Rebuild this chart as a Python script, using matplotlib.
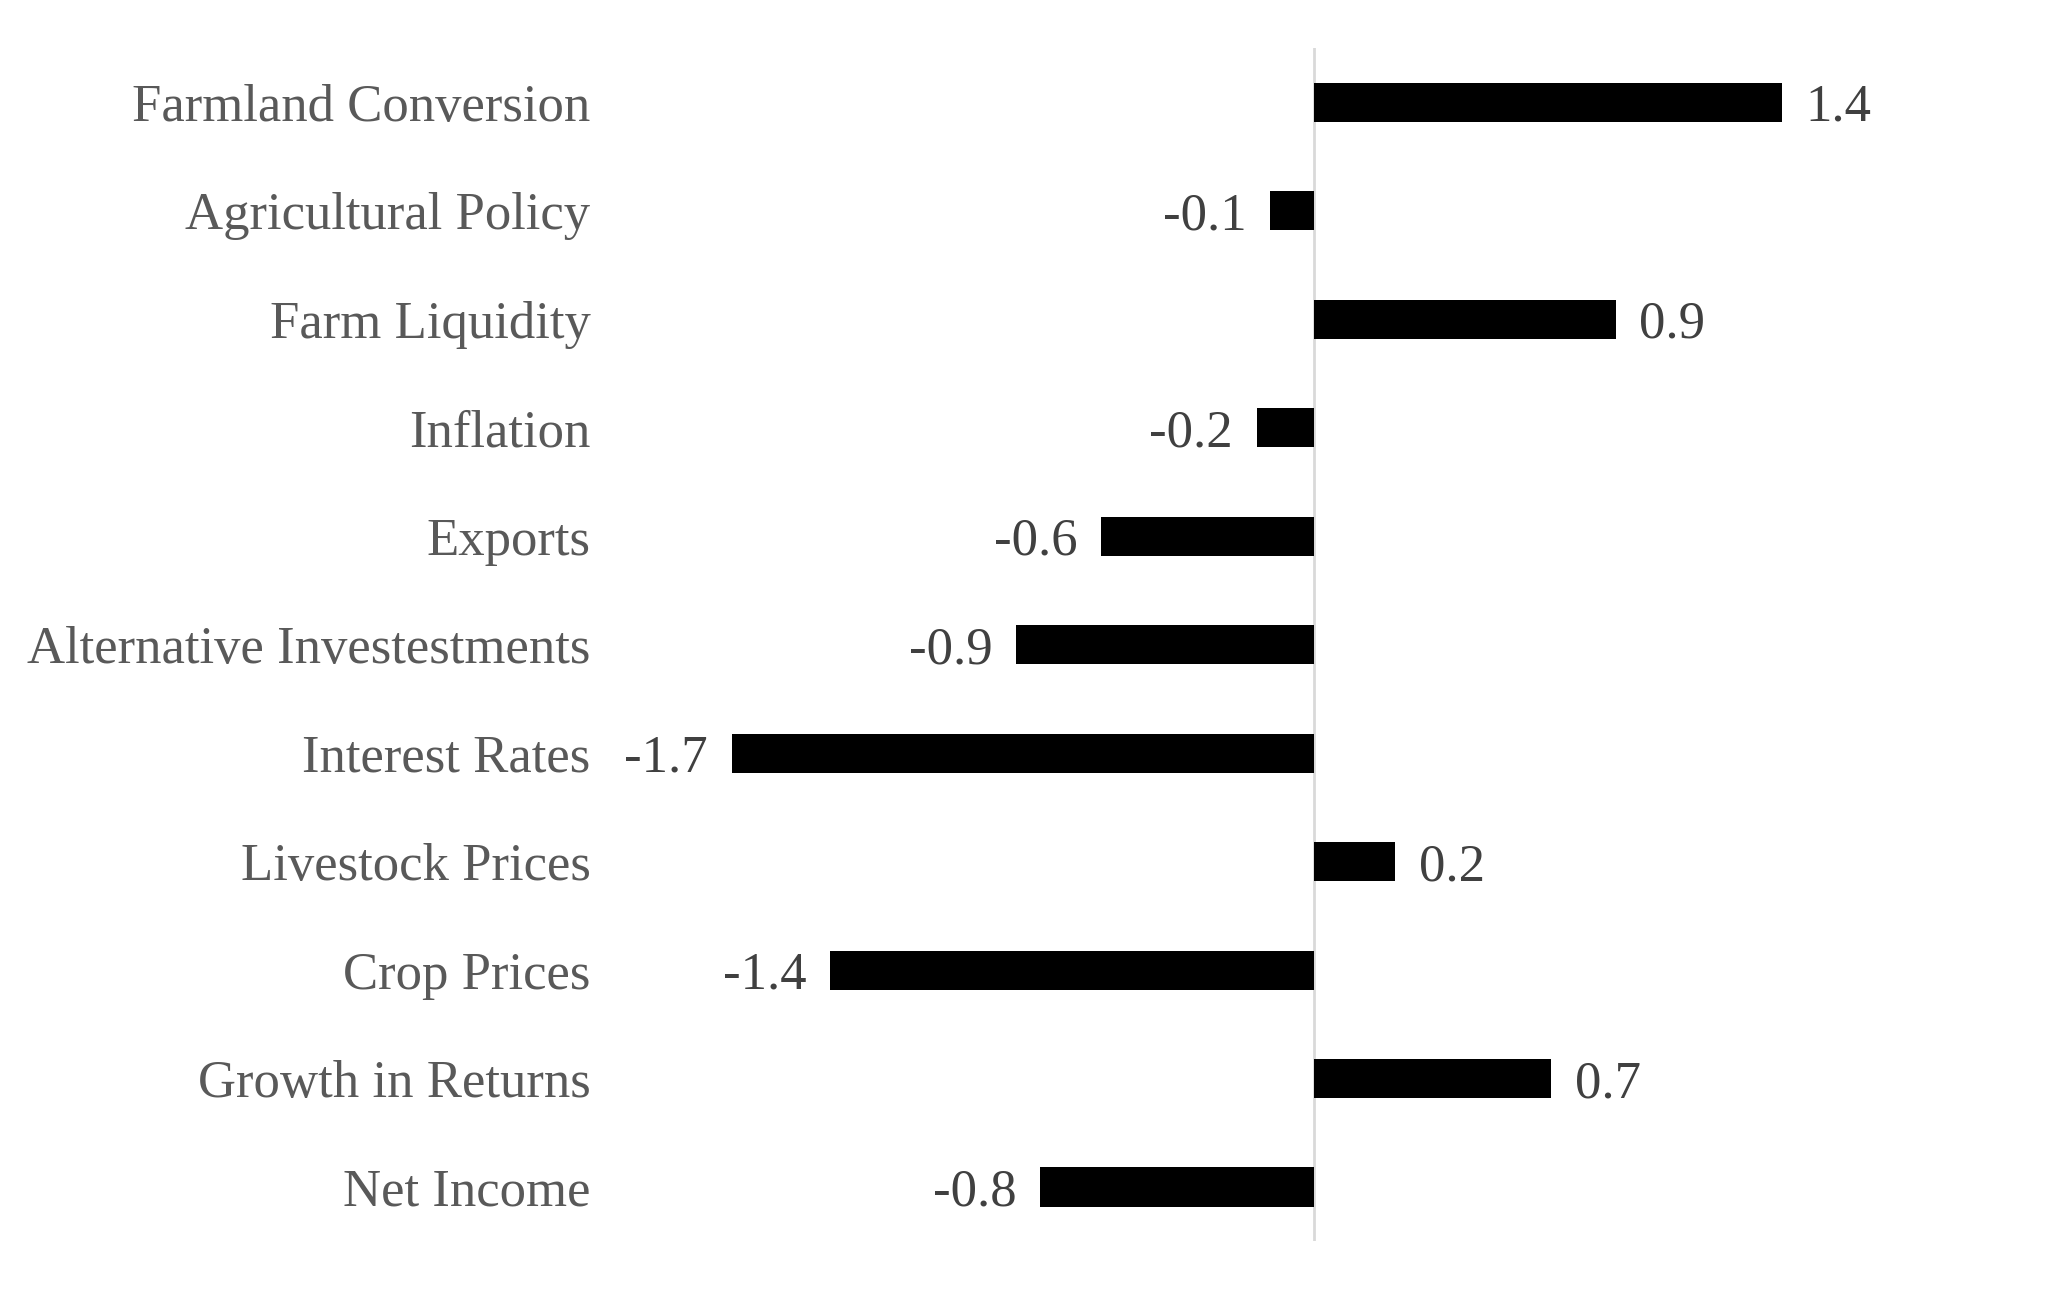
import matplotlib
matplotlib.use("Agg")
import matplotlib.pyplot as plt

categories = ["Farmland Conversion", "Agricultural Policy", "Farm Liquidity", "Inflation",
              "Exports", "Alternative Investestments", "Interest Rates", "Livestock Prices",
              "Crop Prices", "Growth in Returns", "Net Income"]
values = [1.38, -0.13, 0.89, -0.17, -0.63, -0.88, -1.72, 0.24, -1.43, 0.70, -0.81]
value_labels = ["1.4", "-0.1", "0.9", "-0.2", "-0.6", "-0.9", "-1.7", "0.2", "-1.4", "0.7", "-0.8"]

plt.rcParams['font.family'] = ['Liberation Serif', 'DejaVu Serif']

fig = plt.figure(figsize=(20.48, 12.95), dpi=100)
ax = fig.add_axes([0.3440, 0.0415, 0.5954, 0.9215])

n = len(categories)
ypos = list(range(n))
ax.barh(ypos, values, height=0.36, color="black", zorder=3)
ax.axvline(0, color="#d9d9d9", lw=2.0, zorder=2)

ax.set_ylim(n - 0.5, -0.5)
ax.set_xlim(-1.8, 1.8)
ax.set_yticks(ypos)
ax.set_yticklabels(categories, fontsize=38, color="#595959")
ax.tick_params(axis='y', length=0, pad=82)
ax.set_xticks([])
for s in ax.spines.values():
    s.set_visible(False)

for y, v, lab in zip(ypos, values, value_labels):
    if v >= 0:
        ax.annotate(lab, (v, y), xytext=(17, 0), textcoords="offset points",
                    ha="left", va="center_baseline", fontsize=38, color="#404040")
    else:
        ax.annotate(lab, (v, y), xytext=(-17, 0), textcoords="offset points",
                    ha="right", va="center_baseline", fontsize=38, color="#404040")

fig.savefig("out.png", dpi=100, facecolor="white")
